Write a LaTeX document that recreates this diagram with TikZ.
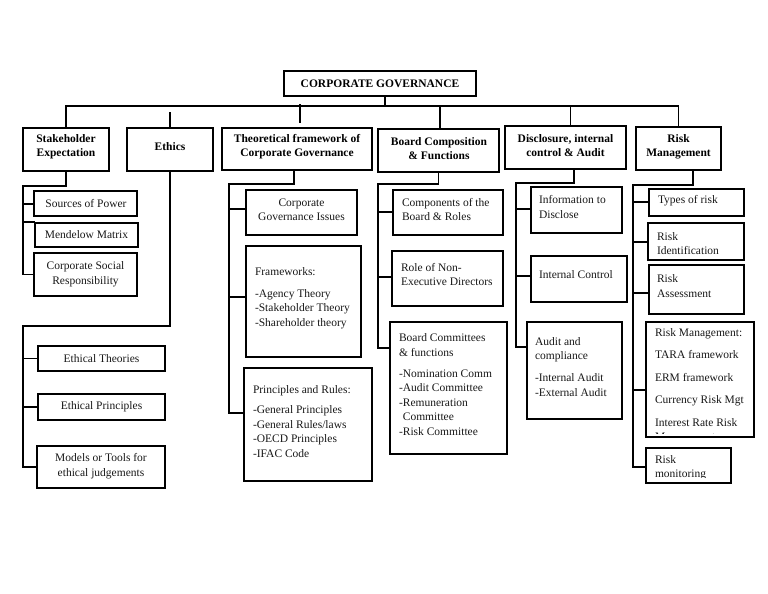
\documentclass[tikz,border=0pt]{standalone}
\usepackage{fontspec}
\setmainfont{Liberation Serif}
\begin{document}
\begin{tikzpicture}[x=1pt,y=-1pt,
  box/.style={draw=black, line width=1.6pt, inner sep=0pt, outer sep=0pt, rectangle},
  thickbox/.style={box, line width=2.6pt},
  conn/.style={draw=black, line width=1.6pt},
  txt/.style={inner sep=0pt, outer sep=0pt, font=\fontsize{11.5}{14.5}\selectfont, text=black!90},
  hd/.style={inner sep=0pt, outer sep=0pt, align=center, font=\fontsize{11.5}{14}\selectfont\bfseries, text=black},
  ctr/.style={txt, align=center, anchor=center},
  lft/.style={txt, align=left, anchor=west}]
\newcommand\bx[6][box]{\node[#1, minimum width={(#5-#3)*1pt}, minimum height={(#6-#4)*1pt}] (#2) at ({(#3+#5)/2},{(#4+#6)/2}) {};}
\newcommand\brn[3]{\coordinate (#1) at (#2); \draw[conn] (#1) -- (#1 -| #3.west);}
\fill[white] (0,0) rectangle (768,594);
\useasboundingbox (0,0) rectangle (768,594);
% boxes
\bx{cg}{284}{71}{476}{96}
\bx{stake}{23}{128}{109}{171}
\bx{ethics}{127}{128}{213}{171}
\bx{theo}{222}{128}{372}{170}
\bx{board}{378}{129}{499}{172}
\bx{disc}{505}{126}{626}{169}
\bx{risk}{636}{127}{721}{170}
\bx{src}{34}{191}{137}{216}
\bx{mend}{35}{223}{138}{247}
\bx{csr}{34}{253}{137}{296}
\bx{eth1}{38}{346}{165}{371}
\bx{eth2}{38}{394}{165}{420}
\bx{eth3}{37}{446}{165}{488}
\bx{cgi}{246}{190}{357}{235}
\bx{frm}{246}{246}{361}{357}
\bx{prin}{244}{368}{372}{481}
\bx{comp}{393}{190}{503}{235}
\bx{ned}{392}{251}{503}{306}
\bx{comm}{390}{322}{507}{454}
\bx{info}{531}{187}{622}{233}
\bx{ic}{531}{256}{627}{302}
\bx{aud}{527}{322}{622}{419}
\bx{types}{649}{189}{744}{216}
\bx{rid}{648}{223}{744}{260}
\bx{rass}{649}{265}{744}{314}
\bx[thickbox]{rm}{646}{322}{754}{437}
\bx{rmon}{646}{448}{731}{483}
% texts
\node[hd] (cgT) at (380,83.5) {CORPORATE GOVERNANCE};
\node[hd] (stakeT) at (66,147) {Stakeholder\\Expectation};
\node[hd] (ethicsT) at (170,146.5) {Ethics};
\node[hd] (theoT) at (297,146.5) {Theoretical framework of\\Corporate Governance};
\node[hd] (boardT) at (439,149) {Board Composition\\\& Functions};
\node[hd] (discT) at (565.5,145.5) {Disclosure, internal\\control \& Audit};
\node[hd] (riskT) at (678.5,146.5) {Risk\\Management};
\node[ctr] (srcT) at (86,203.5) {Sources of Power};
\node[ctr] (mendT) at (86.5,234.5) {Mendelow Matrix};
\node[ctr] (csrT) at (85.5,274) {Corporate Social\\Responsibility};
\node[ctr] (eth1T) at (101.5,358.5) {Ethical Theories};
\node[ctr] (eth2T) at (101.5,407) {Ethical Principles};
\node[ctr] (eth3T) at (101,466) {Models or Tools for\\ethical judgements};
\node[ctr] (cgiT) at (301.5,209.5) {Corporate\\Governance Issues};
\node[lft] (frmT) at (255,298) {Frameworks:\\[7pt]-Agency Theory\\-Stakeholder Theory\\-Shareholder theory};
\node[lft] (prinT) at (253,421.5) {Principles and Rules:\\[5.5pt]-General Principles\\-General Rules/laws\\-OECD Principles\\-IFAC Code};
\node[lft] (compT) at (402,209.5) {Components of the\\Board \& Roles};
\node[lft] (nedT) at (401,274.5) {Role of Non-\\Executive Directors};
\node[lft] (commT) at (399,384.5) {Board Committees\\\& functions\\[6.5pt]-Nomination Comm\\-Audit Committee\\-Remuneration\\\phantom{-}Committee\\-Risk Committee};
\node[lft] (infoT) at (539,207) {Information to\\Disclose};
\node[lft] (icT) at (539,274.5) {Internal Control};
\node[lft] (audT) at (535,367) {Audit and\\compliance\\[7.5pt]-Internal Audit\\-External Audit};
\node[lft] (typesT) at (658,200.5) {Types of risk};
\node[lft] (ridT) at (657,243.5) {Risk\\Identification};
\node[lft] (rassT) at (657,286) {Risk\\Assessment};
\begin{scope}
\clip (647.5,323.5) rectangle (752.5,433.5);
\node[lft] (rmT) at (655,385.5) {Risk Management:\\[8pt]TARA framework\\[8pt]ERM framework\\[8pt]Currency Risk Mgt\\[8pt]Interest Rate Risk\\Management};
\end{scope}
\begin{scope}
\clip (647,449.5) rectangle (730,477.8);
\node[lft] (rmonT) at (655,467.5) {Risk\\monitoring};
\end{scope}
% top bus
\coordinate (bus) at (385,106);
\draw[conn] (stake.north) |- (bus) -| (risk.north);
\draw[conn] (cg.south -| bus) -- (bus);
\draw[conn, shorten <=6pt] (ethics.north |- bus) -- (ethics.north);
\coordinate (thN) at ([xshift=3pt]theo.north);
\draw[conn, shorten >=5pt] ([yshift=2pt]thN |- bus) -- (thN);
\coordinate (bdN) at ([xshift=1.5pt]board.north);
\draw[conn] (bdN |- bus) -- (bdN);
\coordinate (dsN) at ([xshift=5pt]disc.north);
\draw[conn] (dsN |- bus) -- (dsN);
% stakeholder children
\draw[conn] (stake.south) |- (23,186) |- (csr.west);
\brn{sb1}{23,204}{src}
\brn{sb2}{23,222}{mend}
% ethics children
\draw[conn] (ethics.south) |- (23,326) |- (eth3.west);
\brn{eb1}{23,358.5}{eth1}
\brn{eb2}{23,407}{eth2}
% theoretical children
\coordinate (thS) at ([xshift=-3pt]theo.south);
\draw[conn] (thS) |- (229,184) -- (229,414);
\brn{tb1}{229,209}{cgi}
\brn{tb2}{229,297}{frm}
\brn{tb3}{229,413}{prin}
% board children
\draw[conn] (board.south) |- (378,184) -- (378,348.8);
\brn{bb1}{378,212}{comp}
\brn{bb2}{378,277}{ned}
\brn{bb3}{378,348}{comm}
% disclosure children
\coordinate (dsS) at ([xshift=8.5pt]disc.south);
\draw[conn] (dsS) |- (516,183) -- (516,347.8);
\brn{db1}{516,209}{info}
\brn{db2}{516,276}{ic}
\brn{db3}{516,347}{aud}
% risk children
\coordinate (rkS) at ([xshift=14.5pt]risk.south);
\draw[conn] (rkS) |- (633,185) -- (633,467.8);
\brn{rb1}{633,202}{types}
\brn{rb2}{633,242}{rid}
\brn{rb3}{633,293}{rass}
\brn{rb4}{633,390}{rm}
\brn{rb5}{633,467}{rmon}
\end{tikzpicture}
\end{document}
